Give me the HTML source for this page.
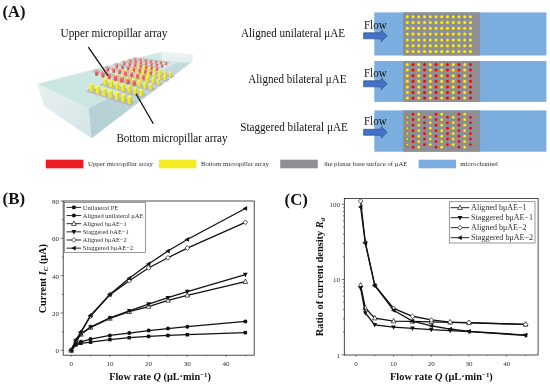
<!DOCTYPE html>
<html lang="en"><head><meta charset="utf-8"><title>Figure</title>
<style>html,body{margin:0;padding:0;background:#fff;}svg{display:block;}svg text{font-family:"Liberation Serif",serif;}</style></head><body>
<svg width="550" height="388" viewBox="0 0 550 388">
<rect width="550" height="388" fill="#fff"/>
<defs>
<linearGradient id="gfront" x1="0" y1="0" x2="1" y2="1"><stop offset="0" stop-color="#e9f0f0"/><stop offset="1" stop-color="#d3e4e6"/></linearGradient>
<linearGradient id="gtop" x1="0" y1="1" x2="1" y2="0"><stop offset="0" stop-color="#c9e4e1"/><stop offset="1" stop-color="#d3e9e7"/></linearGradient>
<linearGradient id="gside" x1="0" y1="1" x2="1" y2="0"><stop offset="0" stop-color="#b2ced4"/><stop offset="1" stop-color="#c6dbdf"/></linearGradient>
<linearGradient id="gback" x1="0" y1="0" x2="0" y2="1"><stop offset="0" stop-color="#f0f5f5"/><stop offset="1" stop-color="#dfecee"/></linearGradient>
<linearGradient id="gy" x1="0" y1="0" x2="1" y2="0"><stop offset="0" stop-color="#f7f23a"/><stop offset="0.6" stop-color="#efe621"/><stop offset="1" stop-color="#b9b92c"/></linearGradient>
<linearGradient id="gr" x1="0" y1="0" x2="1" y2="0"><stop offset="0" stop-color="#f06a66"/><stop offset="0.6" stop-color="#ea5a58"/><stop offset="1" stop-color="#c9514f"/></linearGradient>
</defs>
<g id="box3d">
<polygon points="37.2,84.0 160.6,51.9 192.8,54.5 88.6,108.3" fill="url(#gtop)" />
<polygon points="37.2,84.0 88.6,108.3 91.6,138.2 44.1,106.0" fill="url(#gfront)" />
<polygon points="88.6,108.3 192.8,54.5 191.5,62.2 91.6,138.2" fill="url(#gside)" />
<polygon points="160.6,51.9 192.8,54.5 192.4,63.0 162.8,61.6" fill="url(#gback)" />
<polygon points="90.8,87.5 135.3,102.1 130.5,106.1 86.0,91.5" fill="#b8b7ae" opacity="0.85"/>
<polygon points="104.0,81.7 146.7,94.6 142.4,98.2 99.7,85.3" fill="#b8b7ae" opacity="0.85"/>
<polygon points="114.9,76.9 156.1,88.4 152.2,91.7 111.0,80.2" fill="#b8b7ae" opacity="0.85"/>
<polygon points="123.8,73.1 163.8,83.4 160.2,86.3 120.2,76.0" fill="#b8b7ae" opacity="0.85"/>
<polygon points="131.1,69.9 170.1,79.2 166.8,81.9 127.8,72.6" fill="#b8b7ae" opacity="0.85"/>
<polygon points="137.1,67.3 175.3,75.8 172.2,78.3 134.0,69.8" fill="#b8b7ae" opacity="0.85"/>
<polygon points="95.6,68.8 139.0,80.2 135.2,83.4 91.8,72.0" fill="#c4bdbd" opacity="0.8"/>
<polygon points="106.4,65.4 148.0,74.9 144.6,77.7 103.1,68.2" fill="#c4bdbd" opacity="0.8"/>
<polygon points="115.3,62.6 155.3,70.6 152.3,73.1 112.4,65.1" fill="#c4bdbd" opacity="0.8"/>
<polygon points="122.6,60.3 161.3,67.1 158.7,69.3 120.0,62.5" fill="#c4bdbd" opacity="0.8"/>
<polygon points="128.6,58.5 166.2,64.2 163.9,66.1 126.2,60.4" fill="#c4bdbd" opacity="0.8"/>
<polygon points="133.5,56.9 170.2,61.8 168.1,63.6 131.4,58.7" fill="#c4bdbd" opacity="0.8"/>
<path d="M134.49,58.20 L134.49,60.35 A0.91,0.51 0 0 0 136.31,60.35 L136.31,58.20 Z" fill="url(#gr)"/>
<ellipse cx="135.40" cy="58.20" rx="0.91" ry="0.51" fill="#f3908a"/>
<path d="M139.63,58.88 L139.63,61.03 A0.91,0.51 0 0 0 141.44,61.03 L141.44,58.88 Z" fill="url(#gr)"/>
<ellipse cx="140.53" cy="58.88" rx="0.91" ry="0.51" fill="#f3908a"/>
<path d="M144.76,59.57 L144.76,61.71 A0.91,0.51 0 0 0 146.57,61.71 L146.57,59.57 Z" fill="url(#gr)"/>
<ellipse cx="145.67" cy="59.57" rx="0.91" ry="0.51" fill="#f3908a"/>
<path d="M149.89,60.25 L149.89,62.40 A0.91,0.51 0 0 0 151.71,62.40 L151.71,60.25 Z" fill="url(#gr)"/>
<ellipse cx="150.80" cy="60.25" rx="0.91" ry="0.51" fill="#f3908a"/>
<path d="M155.03,60.93 L155.03,63.08 A0.91,0.51 0 0 0 156.84,63.08 L156.84,60.93 Z" fill="url(#gr)"/>
<ellipse cx="155.93" cy="60.93" rx="0.91" ry="0.51" fill="#f3908a"/>
<path d="M160.16,61.62 L160.16,63.76 A0.91,0.51 0 0 0 161.97,63.76 L161.97,61.62 Z" fill="url(#gr)"/>
<ellipse cx="161.07" cy="61.62" rx="0.91" ry="0.51" fill="#f3908a"/>
<path d="M165.29,62.30 L165.29,64.44 A0.91,0.51 0 0 0 167.11,64.44 L167.11,62.30 Z" fill="url(#gr)"/>
<ellipse cx="166.20" cy="62.30" rx="0.91" ry="0.51" fill="#f3908a"/>
<path d="M137.72,65.27 L137.72,69.30 A1.28,0.72 0 0 0 140.28,69.30 L140.28,65.27 Z" fill="url(#gy)"/>
<ellipse cx="139.00" cy="65.27" rx="1.28" ry="0.72" fill="#fbf65a"/>
<path d="M142.94,66.43 L142.94,70.47 A1.28,0.72 0 0 0 145.50,70.47 L145.50,66.43 Z" fill="url(#gy)"/>
<ellipse cx="144.22" cy="66.43" rx="1.28" ry="0.72" fill="#fbf65a"/>
<path d="M148.15,67.60 L148.15,71.63 A1.28,0.72 0 0 0 150.71,71.63 L150.71,67.60 Z" fill="url(#gy)"/>
<ellipse cx="149.43" cy="67.60" rx="1.28" ry="0.72" fill="#fbf65a"/>
<path d="M153.37,68.77 L153.37,72.80 A1.28,0.72 0 0 0 155.93,72.80 L155.93,68.77 Z" fill="url(#gy)"/>
<ellipse cx="154.65" cy="68.77" rx="1.28" ry="0.72" fill="#fbf65a"/>
<path d="M158.59,69.93 L158.59,73.97 A1.28,0.72 0 0 0 161.15,73.97 L161.15,69.93 Z" fill="url(#gy)"/>
<ellipse cx="159.87" cy="69.93" rx="1.28" ry="0.72" fill="#fbf65a"/>
<path d="M163.80,71.10 L163.80,75.13 A1.28,0.72 0 0 0 166.36,75.13 L166.36,71.10 Z" fill="url(#gy)"/>
<ellipse cx="165.08" cy="71.10" rx="1.28" ry="0.72" fill="#fbf65a"/>
<path d="M169.02,72.27 L169.02,76.30 A1.28,0.72 0 0 0 171.58,76.30 L171.58,72.27 Z" fill="url(#gy)"/>
<ellipse cx="170.30" cy="72.27" rx="1.28" ry="0.72" fill="#fbf65a"/>
<path d="M129.38,59.88 L129.38,62.25 A1.00,0.56 0 0 0 131.39,62.25 L131.39,59.88 Z" fill="url(#gr)"/>
<ellipse cx="130.38" cy="59.88" rx="1.00" ry="0.56" fill="#f3908a"/>
<path d="M134.66,60.69 L134.66,63.06 A1.00,0.56 0 0 0 136.67,63.06 L136.67,60.69 Z" fill="url(#gr)"/>
<ellipse cx="135.66" cy="60.69" rx="1.00" ry="0.56" fill="#f3908a"/>
<path d="M139.94,61.49 L139.94,63.87 A1.00,0.56 0 0 0 141.95,63.87 L141.95,61.49 Z" fill="url(#gr)"/>
<ellipse cx="140.94" cy="61.49" rx="1.00" ry="0.56" fill="#f3908a"/>
<path d="M145.22,62.30 L145.22,64.67 A1.00,0.56 0 0 0 147.23,64.67 L147.23,62.30 Z" fill="url(#gr)"/>
<ellipse cx="146.22" cy="62.30" rx="1.00" ry="0.56" fill="#f3908a"/>
<path d="M150.50,63.11 L150.50,65.48 A1.00,0.56 0 0 0 152.51,65.48 L152.51,63.11 Z" fill="url(#gr)"/>
<ellipse cx="151.50" cy="63.11" rx="1.00" ry="0.56" fill="#f3908a"/>
<path d="M155.78,63.91 L155.78,66.28 A1.00,0.56 0 0 0 157.79,66.28 L157.79,63.91 Z" fill="url(#gr)"/>
<ellipse cx="156.78" cy="63.91" rx="1.00" ry="0.56" fill="#f3908a"/>
<path d="M161.06,64.72 L161.06,67.09 A1.00,0.56 0 0 0 163.06,67.09 L163.06,64.72 Z" fill="url(#gr)"/>
<ellipse cx="162.06" cy="64.72" rx="1.00" ry="0.56" fill="#f3908a"/>
<path d="M131.51,67.73 L131.51,72.05 A1.37,0.77 0 0 0 134.26,72.05 L134.26,67.73 Z" fill="url(#gy)"/>
<ellipse cx="132.88" cy="67.73" rx="1.37" ry="0.77" fill="#fbf65a"/>
<path d="M136.87,69.01 L136.87,73.34 A1.37,0.77 0 0 0 139.61,73.34 L139.61,69.01 Z" fill="url(#gy)"/>
<ellipse cx="138.24" cy="69.01" rx="1.37" ry="0.77" fill="#fbf65a"/>
<path d="M142.23,70.30 L142.23,74.62 A1.37,0.77 0 0 0 144.97,74.62 L144.97,70.30 Z" fill="url(#gy)"/>
<ellipse cx="143.60" cy="70.30" rx="1.37" ry="0.77" fill="#fbf65a"/>
<path d="M147.59,71.58 L147.59,75.90 A1.37,0.77 0 0 0 150.33,75.90 L150.33,71.58 Z" fill="url(#gy)"/>
<ellipse cx="148.96" cy="71.58" rx="1.37" ry="0.77" fill="#fbf65a"/>
<path d="M152.95,72.86 L152.95,77.19 A1.37,0.77 0 0 0 155.69,77.19 L155.69,72.86 Z" fill="url(#gy)"/>
<ellipse cx="154.32" cy="72.86" rx="1.37" ry="0.77" fill="#fbf65a"/>
<path d="M158.30,74.14 L158.30,78.47 A1.37,0.77 0 0 0 161.05,78.47 L161.05,74.14 Z" fill="url(#gy)"/>
<ellipse cx="159.68" cy="74.14" rx="1.37" ry="0.77" fill="#fbf65a"/>
<path d="M163.66,75.43 L163.66,79.75 A1.37,0.77 0 0 0 166.41,79.75 L166.41,75.43 Z" fill="url(#gy)"/>
<ellipse cx="165.04" cy="75.43" rx="1.37" ry="0.77" fill="#fbf65a"/>
<path d="M123.14,61.93 L123.14,64.58 A1.12,0.63 0 0 0 125.38,64.58 L125.38,61.93 Z" fill="url(#gr)"/>
<ellipse cx="124.26" cy="61.93" rx="1.12" ry="0.63" fill="#f3908a"/>
<path d="M128.60,62.89 L128.60,65.54 A1.12,0.63 0 0 0 130.84,65.54 L130.84,62.89 Z" fill="url(#gr)"/>
<ellipse cx="129.72" cy="62.89" rx="1.12" ry="0.63" fill="#f3908a"/>
<path d="M134.06,63.84 L134.06,66.49 A1.12,0.63 0 0 0 136.30,66.49 L136.30,63.84 Z" fill="url(#gr)"/>
<ellipse cx="135.18" cy="63.84" rx="1.12" ry="0.63" fill="#f3908a"/>
<path d="M139.52,64.80 L139.52,67.45 A1.12,0.63 0 0 0 141.76,67.45 L141.76,64.80 Z" fill="url(#gr)"/>
<ellipse cx="140.64" cy="64.80" rx="1.12" ry="0.63" fill="#f3908a"/>
<path d="M144.98,65.76 L144.98,68.40 A1.12,0.63 0 0 0 147.22,68.40 L147.22,65.76 Z" fill="url(#gr)"/>
<ellipse cx="146.10" cy="65.76" rx="1.12" ry="0.63" fill="#f3908a"/>
<path d="M150.44,66.71 L150.44,69.36 A1.12,0.63 0 0 0 152.68,69.36 L152.68,66.71 Z" fill="url(#gr)"/>
<ellipse cx="151.56" cy="66.71" rx="1.12" ry="0.63" fill="#f3908a"/>
<path d="M155.89,67.67 L155.89,70.32 A1.12,0.63 0 0 0 158.14,70.32 L158.14,67.67 Z" fill="url(#gr)"/>
<ellipse cx="157.01" cy="67.67" rx="1.12" ry="0.63" fill="#f3908a"/>
<path d="M123.94,70.73 L123.94,75.41 A1.49,0.83 0 0 0 126.91,75.41 L126.91,70.73 Z" fill="url(#gy)"/>
<ellipse cx="125.42" cy="70.73" rx="1.49" ry="0.83" fill="#fbf65a"/>
<path d="M129.47,72.16 L129.47,76.84 A1.49,0.83 0 0 0 132.44,76.84 L132.44,72.16 Z" fill="url(#gy)"/>
<ellipse cx="130.96" cy="72.16" rx="1.49" ry="0.83" fill="#fbf65a"/>
<path d="M135.00,73.58 L135.00,78.26 A1.49,0.83 0 0 0 137.97,78.26 L137.97,73.58 Z" fill="url(#gy)"/>
<ellipse cx="136.49" cy="73.58" rx="1.49" ry="0.83" fill="#fbf65a"/>
<path d="M140.53,75.01 L140.53,79.69 A1.49,0.83 0 0 0 143.51,79.69 L143.51,75.01 Z" fill="url(#gy)"/>
<ellipse cx="142.02" cy="75.01" rx="1.49" ry="0.83" fill="#fbf65a"/>
<path d="M146.07,76.43 L146.07,81.11 A1.49,0.83 0 0 0 149.04,81.11 L149.04,76.43 Z" fill="url(#gy)"/>
<ellipse cx="147.55" cy="76.43" rx="1.49" ry="0.83" fill="#fbf65a"/>
<path d="M151.60,77.86 L151.60,82.54 A1.49,0.83 0 0 0 154.57,82.54 L154.57,77.86 Z" fill="url(#gy)"/>
<ellipse cx="153.08" cy="77.86" rx="1.49" ry="0.83" fill="#fbf65a"/>
<path d="M157.13,79.28 L157.13,83.96 A1.49,0.83 0 0 0 160.10,83.96 L160.10,79.28 Z" fill="url(#gy)"/>
<ellipse cx="158.62" cy="79.28" rx="1.49" ry="0.83" fill="#fbf65a"/>
<path d="M115.54,64.43 L115.54,67.42 A1.26,0.71 0 0 0 118.06,67.42 L118.06,64.43 Z" fill="url(#gr)"/>
<ellipse cx="116.80" cy="64.43" rx="1.26" ry="0.71" fill="#f3908a"/>
<path d="M121.21,65.57 L121.21,68.56 A1.26,0.71 0 0 0 123.74,68.56 L123.74,65.57 Z" fill="url(#gr)"/>
<ellipse cx="122.48" cy="65.57" rx="1.26" ry="0.71" fill="#f3908a"/>
<path d="M126.89,66.71 L126.89,69.70 A1.26,0.71 0 0 0 129.42,69.70 L129.42,66.71 Z" fill="url(#gr)"/>
<ellipse cx="128.15" cy="66.71" rx="1.26" ry="0.71" fill="#f3908a"/>
<path d="M132.57,67.85 L132.57,70.83 A1.26,0.71 0 0 0 135.09,70.83 L135.09,67.85 Z" fill="url(#gr)"/>
<ellipse cx="133.83" cy="67.85" rx="1.26" ry="0.71" fill="#f3908a"/>
<path d="M138.24,68.99 L138.24,71.97 A1.26,0.71 0 0 0 140.77,71.97 L140.77,68.99 Z" fill="url(#gr)"/>
<ellipse cx="139.51" cy="68.99" rx="1.26" ry="0.71" fill="#f3908a"/>
<path d="M143.92,70.13 L143.92,73.11 A1.26,0.71 0 0 0 146.45,73.11 L146.45,70.13 Z" fill="url(#gr)"/>
<ellipse cx="145.18" cy="70.13" rx="1.26" ry="0.71" fill="#f3908a"/>
<path d="M149.60,71.26 L149.60,74.25 A1.26,0.71 0 0 0 152.12,74.25 L152.12,71.26 Z" fill="url(#gr)"/>
<ellipse cx="150.86" cy="71.26" rx="1.26" ry="0.71" fill="#f3908a"/>
<path d="M114.70,74.39 L114.70,79.51 A1.63,0.91 0 0 0 117.95,79.51 L117.95,74.39 Z" fill="url(#gy)"/>
<ellipse cx="116.32" cy="74.39" rx="1.63" ry="0.91" fill="#fbf65a"/>
<path d="M120.44,75.99 L120.44,81.11 A1.63,0.91 0 0 0 123.69,81.11 L123.69,75.99 Z" fill="url(#gy)"/>
<ellipse cx="122.07" cy="75.99" rx="1.63" ry="0.91" fill="#fbf65a"/>
<path d="M126.19,77.59 L126.19,82.71 A1.63,0.91 0 0 0 129.44,82.71 L129.44,77.59 Z" fill="url(#gy)"/>
<ellipse cx="127.81" cy="77.59" rx="1.63" ry="0.91" fill="#fbf65a"/>
<path d="M131.93,79.19 L131.93,84.31 A1.63,0.91 0 0 0 135.18,84.31 L135.18,79.19 Z" fill="url(#gy)"/>
<ellipse cx="133.56" cy="79.19" rx="1.63" ry="0.91" fill="#fbf65a"/>
<path d="M137.68,80.78 L137.68,85.90 A1.63,0.91 0 0 0 140.93,85.90 L140.93,80.78 Z" fill="url(#gy)"/>
<ellipse cx="139.30" cy="80.78" rx="1.63" ry="0.91" fill="#fbf65a"/>
<path d="M143.42,82.38 L143.42,87.50 A1.63,0.91 0 0 0 146.67,87.50 L146.67,82.38 Z" fill="url(#gy)"/>
<ellipse cx="145.04" cy="82.38" rx="1.63" ry="0.91" fill="#fbf65a"/>
<path d="M149.16,83.98 L149.16,89.10 A1.63,0.91 0 0 0 152.41,89.10 L152.41,83.98 Z" fill="url(#gy)"/>
<ellipse cx="150.79" cy="83.98" rx="1.63" ry="0.91" fill="#fbf65a"/>
<path d="M106.26,67.48 L106.26,70.88 A1.44,0.81 0 0 0 109.14,70.88 L109.14,67.48 Z" fill="url(#gr)"/>
<ellipse cx="107.70" cy="67.48" rx="1.44" ry="0.81" fill="#f3908a"/>
<path d="M112.20,68.84 L112.20,72.24 A1.44,0.81 0 0 0 115.08,72.24 L115.08,68.84 Z" fill="url(#gr)"/>
<ellipse cx="113.64" cy="68.84" rx="1.44" ry="0.81" fill="#f3908a"/>
<path d="M118.15,70.20 L118.15,73.60 A1.44,0.81 0 0 0 121.02,73.60 L121.02,70.20 Z" fill="url(#gr)"/>
<ellipse cx="119.58" cy="70.20" rx="1.44" ry="0.81" fill="#f3908a"/>
<path d="M124.09,71.57 L124.09,74.96 A1.44,0.81 0 0 0 126.96,74.96 L126.96,71.57 Z" fill="url(#gr)"/>
<ellipse cx="125.53" cy="71.57" rx="1.44" ry="0.81" fill="#f3908a"/>
<path d="M130.03,72.93 L130.03,76.33 A1.44,0.81 0 0 0 132.91,76.33 L132.91,72.93 Z" fill="url(#gr)"/>
<ellipse cx="131.47" cy="72.93" rx="1.44" ry="0.81" fill="#f3908a"/>
<path d="M135.97,74.29 L135.97,77.69 A1.44,0.81 0 0 0 138.85,77.69 L138.85,74.29 Z" fill="url(#gr)"/>
<ellipse cx="137.41" cy="74.29" rx="1.44" ry="0.81" fill="#f3908a"/>
<path d="M141.92,75.65 L141.92,79.05 A1.44,0.81 0 0 0 144.79,79.05 L144.79,75.65 Z" fill="url(#gr)"/>
<ellipse cx="143.35" cy="75.65" rx="1.44" ry="0.81" fill="#f3908a"/>
<path d="M103.44,78.86 L103.44,84.51 A1.79,1.00 0 0 0 107.02,84.51 L107.02,78.86 Z" fill="url(#gy)"/>
<ellipse cx="105.23" cy="78.86" rx="1.79" ry="1.00" fill="#fbf65a"/>
<path d="M109.44,80.67 L109.44,86.32 A1.79,1.00 0 0 0 113.03,86.32 L113.03,80.67 Z" fill="url(#gy)"/>
<ellipse cx="111.23" cy="80.67" rx="1.79" ry="1.00" fill="#fbf65a"/>
<path d="M115.44,82.47 L115.44,88.13 A1.79,1.00 0 0 0 119.03,88.13 L119.03,82.47 Z" fill="url(#gy)"/>
<ellipse cx="117.23" cy="82.47" rx="1.79" ry="1.00" fill="#fbf65a"/>
<path d="M121.44,84.28 L121.44,89.93 A1.79,1.00 0 0 0 125.03,89.93 L125.03,84.28 Z" fill="url(#gy)"/>
<ellipse cx="123.24" cy="84.28" rx="1.79" ry="1.00" fill="#fbf65a"/>
<path d="M127.44,86.09 L127.44,91.74 A1.79,1.00 0 0 0 131.03,91.74 L131.03,86.09 Z" fill="url(#gy)"/>
<ellipse cx="129.24" cy="86.09" rx="1.79" ry="1.00" fill="#fbf65a"/>
<path d="M133.45,87.90 L133.45,93.55 A1.79,1.00 0 0 0 137.03,93.55 L137.03,87.90 Z" fill="url(#gy)"/>
<ellipse cx="135.24" cy="87.90" rx="1.79" ry="1.00" fill="#fbf65a"/>
<path d="M139.45,89.71 L139.45,95.36 A1.79,1.00 0 0 0 143.04,95.36 L143.04,89.71 Z" fill="url(#gy)"/>
<ellipse cx="141.24" cy="89.71" rx="1.79" ry="1.00" fill="#fbf65a"/>
<path d="M94.95,71.20 L94.95,75.10 A1.65,0.92 0 0 0 98.25,75.10 L98.25,71.20 Z" fill="url(#gr)"/>
<ellipse cx="96.60" cy="71.20" rx="1.65" ry="0.92" fill="#f3908a"/>
<path d="M101.22,72.83 L101.22,76.73 A1.65,0.92 0 0 0 104.52,76.73 L104.52,72.83 Z" fill="url(#gr)"/>
<ellipse cx="102.87" cy="72.83" rx="1.65" ry="0.92" fill="#f3908a"/>
<path d="M107.48,74.47 L107.48,78.37 A1.65,0.92 0 0 0 110.78,78.37 L110.78,74.47 Z" fill="url(#gr)"/>
<ellipse cx="109.13" cy="74.47" rx="1.65" ry="0.92" fill="#f3908a"/>
<path d="M113.75,76.10 L113.75,80.00 A1.65,0.92 0 0 0 117.05,80.00 L117.05,76.10 Z" fill="url(#gr)"/>
<ellipse cx="115.40" cy="76.10" rx="1.65" ry="0.92" fill="#f3908a"/>
<path d="M120.02,77.73 L120.02,81.63 A1.65,0.92 0 0 0 123.32,81.63 L123.32,77.73 Z" fill="url(#gr)"/>
<ellipse cx="121.67" cy="77.73" rx="1.65" ry="0.92" fill="#f3908a"/>
<path d="M126.28,79.37 L126.28,83.27 A1.65,0.92 0 0 0 129.58,83.27 L129.58,79.37 Z" fill="url(#gr)"/>
<ellipse cx="127.93" cy="79.37" rx="1.65" ry="0.92" fill="#f3908a"/>
<path d="M132.55,81.00 L132.55,84.90 A1.65,0.92 0 0 0 135.85,84.90 L135.85,81.00 Z" fill="url(#gr)"/>
<ellipse cx="134.20" cy="81.00" rx="1.65" ry="0.92" fill="#f3908a"/>
<path d="M89.70,84.30 L89.70,90.60 A2.00,1.12 0 0 0 93.70,90.60 L93.70,84.30 Z" fill="url(#gy)"/>
<ellipse cx="91.70" cy="84.30" rx="2.00" ry="1.12" fill="#fbf65a"/>
<path d="M96.02,86.37 L96.02,92.67 A2.00,1.12 0 0 0 100.02,92.67 L100.02,86.37 Z" fill="url(#gy)"/>
<ellipse cx="98.02" cy="86.37" rx="2.00" ry="1.12" fill="#fbf65a"/>
<path d="M102.33,88.43 L102.33,94.73 A2.00,1.12 0 0 0 106.33,94.73 L106.33,88.43 Z" fill="url(#gy)"/>
<ellipse cx="104.33" cy="88.43" rx="2.00" ry="1.12" fill="#fbf65a"/>
<path d="M108.65,90.50 L108.65,96.80 A2.00,1.12 0 0 0 112.65,96.80 L112.65,90.50 Z" fill="url(#gy)"/>
<ellipse cx="110.65" cy="90.50" rx="2.00" ry="1.12" fill="#fbf65a"/>
<path d="M114.97,92.57 L114.97,98.87 A2.00,1.12 0 0 0 118.97,98.87 L118.97,92.57 Z" fill="url(#gy)"/>
<ellipse cx="116.97" cy="92.57" rx="2.00" ry="1.12" fill="#fbf65a"/>
<path d="M121.28,94.63 L121.28,100.93 A2.00,1.12 0 0 0 125.28,100.93 L125.28,94.63 Z" fill="url(#gy)"/>
<ellipse cx="123.28" cy="94.63" rx="2.00" ry="1.12" fill="#fbf65a"/>
<path d="M127.60,96.70 L127.60,103.00 A2.00,1.12 0 0 0 131.60,103.00 L131.60,96.70 Z" fill="url(#gy)"/>
<ellipse cx="129.60" cy="96.70" rx="2.00" ry="1.12" fill="#fbf65a"/>
</g>
<line x1="88.3" y1="47.1" x2="108" y2="75.6" stroke="#111" stroke-width="1.3"/>
<line x1="136.0" y1="93.8" x2="153.3" y2="123.8" stroke="#111" stroke-width="1.3"/>
<text x="2.6" y="17" font-size="16" font-weight="bold" text-anchor="start" fill="#111" textLength="22.9" lengthAdjust="spacingAndGlyphs" >(A)</text>
<text x="60.5" y="37.0" font-size="12.2" font-weight="normal" text-anchor="start" fill="#111" textLength="107" lengthAdjust="spacingAndGlyphs" >Upper micropillar array</text>
<text x="116.4" y="141.6" font-size="12.2" font-weight="normal" text-anchor="start" fill="#111" textLength="111.2" lengthAdjust="spacingAndGlyphs" >Bottom micropillar array</text>
<text x="241" y="37.2" font-size="12.2" font-weight="normal" text-anchor="start" fill="#111" textLength="104" lengthAdjust="spacingAndGlyphs" >Aligned unilateral μAE</text>
<text x="248.3" y="83.3" font-size="12.2" font-weight="normal" text-anchor="start" fill="#111" textLength="98.1" lengthAdjust="spacingAndGlyphs" >Aligned bilateral μAE</text>
<text x="240.2" y="131.3" font-size="12.2" font-weight="normal" text-anchor="start" fill="#111" textLength="107.6" lengthAdjust="spacingAndGlyphs" >Staggered bilateral μAE</text>
<rect x="374.3" y="12.4" width="172.1" height="43.1" fill="#7badde"/>
<rect x="403.1" y="12.4" width="77" height="43.1" fill="#8e8e93"/>
<rect x="374.3" y="61" width="172.1" height="40.9" fill="#7badde"/>
<rect x="403.1" y="61" width="77" height="40.9" fill="#8e8e93"/>
<rect x="374.3" y="110.4" width="172.1" height="41.3" fill="#7badde"/>
<rect x="403.1" y="110.4" width="77" height="41.3" fill="#8e8e93"/>
<circle cx="407.30" cy="16.70" r="1.5" fill="#fff200"/>
<circle cx="407.30" cy="22.50" r="1.5" fill="#fff200"/>
<circle cx="407.30" cy="28.30" r="1.5" fill="#fff200"/>
<circle cx="407.30" cy="34.10" r="1.5" fill="#fff200"/>
<circle cx="407.30" cy="39.90" r="1.5" fill="#fff200"/>
<circle cx="407.30" cy="45.70" r="1.5" fill="#fff200"/>
<circle cx="407.30" cy="51.50" r="1.5" fill="#fff200"/>
<circle cx="413.04" cy="16.70" r="1.5" fill="#fff200"/>
<circle cx="413.04" cy="22.50" r="1.5" fill="#fff200"/>
<circle cx="413.04" cy="28.30" r="1.5" fill="#fff200"/>
<circle cx="413.04" cy="34.10" r="1.5" fill="#fff200"/>
<circle cx="413.04" cy="39.90" r="1.5" fill="#fff200"/>
<circle cx="413.04" cy="45.70" r="1.5" fill="#fff200"/>
<circle cx="413.04" cy="51.50" r="1.5" fill="#fff200"/>
<circle cx="418.78" cy="16.70" r="1.5" fill="#fff200"/>
<circle cx="418.78" cy="22.50" r="1.5" fill="#fff200"/>
<circle cx="418.78" cy="28.30" r="1.5" fill="#fff200"/>
<circle cx="418.78" cy="34.10" r="1.5" fill="#fff200"/>
<circle cx="418.78" cy="39.90" r="1.5" fill="#fff200"/>
<circle cx="418.78" cy="45.70" r="1.5" fill="#fff200"/>
<circle cx="418.78" cy="51.50" r="1.5" fill="#fff200"/>
<circle cx="424.52" cy="16.70" r="1.5" fill="#fff200"/>
<circle cx="424.52" cy="22.50" r="1.5" fill="#fff200"/>
<circle cx="424.52" cy="28.30" r="1.5" fill="#fff200"/>
<circle cx="424.52" cy="34.10" r="1.5" fill="#fff200"/>
<circle cx="424.52" cy="39.90" r="1.5" fill="#fff200"/>
<circle cx="424.52" cy="45.70" r="1.5" fill="#fff200"/>
<circle cx="424.52" cy="51.50" r="1.5" fill="#fff200"/>
<circle cx="430.26" cy="16.70" r="1.5" fill="#fff200"/>
<circle cx="430.26" cy="22.50" r="1.5" fill="#fff200"/>
<circle cx="430.26" cy="28.30" r="1.5" fill="#fff200"/>
<circle cx="430.26" cy="34.10" r="1.5" fill="#fff200"/>
<circle cx="430.26" cy="39.90" r="1.5" fill="#fff200"/>
<circle cx="430.26" cy="45.70" r="1.5" fill="#fff200"/>
<circle cx="430.26" cy="51.50" r="1.5" fill="#fff200"/>
<circle cx="436.00" cy="16.70" r="1.5" fill="#fff200"/>
<circle cx="436.00" cy="22.50" r="1.5" fill="#fff200"/>
<circle cx="436.00" cy="28.30" r="1.5" fill="#fff200"/>
<circle cx="436.00" cy="34.10" r="1.5" fill="#fff200"/>
<circle cx="436.00" cy="39.90" r="1.5" fill="#fff200"/>
<circle cx="436.00" cy="45.70" r="1.5" fill="#fff200"/>
<circle cx="436.00" cy="51.50" r="1.5" fill="#fff200"/>
<circle cx="441.74" cy="16.70" r="1.5" fill="#fff200"/>
<circle cx="441.74" cy="22.50" r="1.5" fill="#fff200"/>
<circle cx="441.74" cy="28.30" r="1.5" fill="#fff200"/>
<circle cx="441.74" cy="34.10" r="1.5" fill="#fff200"/>
<circle cx="441.74" cy="39.90" r="1.5" fill="#fff200"/>
<circle cx="441.74" cy="45.70" r="1.5" fill="#fff200"/>
<circle cx="441.74" cy="51.50" r="1.5" fill="#fff200"/>
<circle cx="447.48" cy="16.70" r="1.5" fill="#fff200"/>
<circle cx="447.48" cy="22.50" r="1.5" fill="#fff200"/>
<circle cx="447.48" cy="28.30" r="1.5" fill="#fff200"/>
<circle cx="447.48" cy="34.10" r="1.5" fill="#fff200"/>
<circle cx="447.48" cy="39.90" r="1.5" fill="#fff200"/>
<circle cx="447.48" cy="45.70" r="1.5" fill="#fff200"/>
<circle cx="447.48" cy="51.50" r="1.5" fill="#fff200"/>
<circle cx="453.22" cy="16.70" r="1.5" fill="#fff200"/>
<circle cx="453.22" cy="22.50" r="1.5" fill="#fff200"/>
<circle cx="453.22" cy="28.30" r="1.5" fill="#fff200"/>
<circle cx="453.22" cy="34.10" r="1.5" fill="#fff200"/>
<circle cx="453.22" cy="39.90" r="1.5" fill="#fff200"/>
<circle cx="453.22" cy="45.70" r="1.5" fill="#fff200"/>
<circle cx="453.22" cy="51.50" r="1.5" fill="#fff200"/>
<circle cx="458.96" cy="16.70" r="1.5" fill="#fff200"/>
<circle cx="458.96" cy="22.50" r="1.5" fill="#fff200"/>
<circle cx="458.96" cy="28.30" r="1.5" fill="#fff200"/>
<circle cx="458.96" cy="34.10" r="1.5" fill="#fff200"/>
<circle cx="458.96" cy="39.90" r="1.5" fill="#fff200"/>
<circle cx="458.96" cy="45.70" r="1.5" fill="#fff200"/>
<circle cx="458.96" cy="51.50" r="1.5" fill="#fff200"/>
<circle cx="464.70" cy="16.70" r="1.5" fill="#fff200"/>
<circle cx="464.70" cy="22.50" r="1.5" fill="#fff200"/>
<circle cx="464.70" cy="28.30" r="1.5" fill="#fff200"/>
<circle cx="464.70" cy="34.10" r="1.5" fill="#fff200"/>
<circle cx="464.70" cy="39.90" r="1.5" fill="#fff200"/>
<circle cx="464.70" cy="45.70" r="1.5" fill="#fff200"/>
<circle cx="464.70" cy="51.50" r="1.5" fill="#fff200"/>
<circle cx="470.44" cy="16.70" r="1.5" fill="#fff200"/>
<circle cx="470.44" cy="22.50" r="1.5" fill="#fff200"/>
<circle cx="470.44" cy="28.30" r="1.5" fill="#fff200"/>
<circle cx="470.44" cy="34.10" r="1.5" fill="#fff200"/>
<circle cx="470.44" cy="39.90" r="1.5" fill="#fff200"/>
<circle cx="470.44" cy="45.70" r="1.5" fill="#fff200"/>
<circle cx="470.44" cy="51.50" r="1.5" fill="#fff200"/>
<circle cx="407.30" cy="64.50" r="1.5" fill="#fff200"/>
<circle cx="407.30" cy="70.10" r="1.5" fill="#fff200"/>
<circle cx="407.30" cy="75.70" r="1.5" fill="#fff200"/>
<circle cx="407.30" cy="81.30" r="1.5" fill="#fff200"/>
<circle cx="407.30" cy="86.90" r="1.5" fill="#fff200"/>
<circle cx="407.30" cy="92.50" r="1.5" fill="#fff200"/>
<circle cx="407.30" cy="98.10" r="1.5" fill="#fff200"/>
<circle cx="413.04" cy="64.50" r="1.5" fill="#fe0000"/>
<circle cx="413.04" cy="70.10" r="1.5" fill="#fe0000"/>
<circle cx="413.04" cy="75.70" r="1.5" fill="#fe0000"/>
<circle cx="413.04" cy="81.30" r="1.5" fill="#fe0000"/>
<circle cx="413.04" cy="86.90" r="1.5" fill="#fe0000"/>
<circle cx="413.04" cy="92.50" r="1.5" fill="#fe0000"/>
<circle cx="413.04" cy="98.10" r="1.5" fill="#fe0000"/>
<circle cx="418.78" cy="64.50" r="1.5" fill="#fff200"/>
<circle cx="418.78" cy="70.10" r="1.5" fill="#fff200"/>
<circle cx="418.78" cy="75.70" r="1.5" fill="#fff200"/>
<circle cx="418.78" cy="81.30" r="1.5" fill="#fff200"/>
<circle cx="418.78" cy="86.90" r="1.5" fill="#fff200"/>
<circle cx="418.78" cy="92.50" r="1.5" fill="#fff200"/>
<circle cx="418.78" cy="98.10" r="1.5" fill="#fff200"/>
<circle cx="424.52" cy="64.50" r="1.5" fill="#fe0000"/>
<circle cx="424.52" cy="70.10" r="1.5" fill="#fe0000"/>
<circle cx="424.52" cy="75.70" r="1.5" fill="#fe0000"/>
<circle cx="424.52" cy="81.30" r="1.5" fill="#fe0000"/>
<circle cx="424.52" cy="86.90" r="1.5" fill="#fe0000"/>
<circle cx="424.52" cy="92.50" r="1.5" fill="#fe0000"/>
<circle cx="424.52" cy="98.10" r="1.5" fill="#fe0000"/>
<circle cx="430.26" cy="64.50" r="1.5" fill="#fff200"/>
<circle cx="430.26" cy="70.10" r="1.5" fill="#fff200"/>
<circle cx="430.26" cy="75.70" r="1.5" fill="#fff200"/>
<circle cx="430.26" cy="81.30" r="1.5" fill="#fff200"/>
<circle cx="430.26" cy="86.90" r="1.5" fill="#fff200"/>
<circle cx="430.26" cy="92.50" r="1.5" fill="#fff200"/>
<circle cx="430.26" cy="98.10" r="1.5" fill="#fff200"/>
<circle cx="436.00" cy="64.50" r="1.5" fill="#fe0000"/>
<circle cx="436.00" cy="70.10" r="1.5" fill="#fe0000"/>
<circle cx="436.00" cy="75.70" r="1.5" fill="#fe0000"/>
<circle cx="436.00" cy="81.30" r="1.5" fill="#fe0000"/>
<circle cx="436.00" cy="86.90" r="1.5" fill="#fe0000"/>
<circle cx="436.00" cy="92.50" r="1.5" fill="#fe0000"/>
<circle cx="436.00" cy="98.10" r="1.5" fill="#fe0000"/>
<circle cx="441.74" cy="64.50" r="1.5" fill="#fff200"/>
<circle cx="441.74" cy="70.10" r="1.5" fill="#fff200"/>
<circle cx="441.74" cy="75.70" r="1.5" fill="#fff200"/>
<circle cx="441.74" cy="81.30" r="1.5" fill="#fff200"/>
<circle cx="441.74" cy="86.90" r="1.5" fill="#fff200"/>
<circle cx="441.74" cy="92.50" r="1.5" fill="#fff200"/>
<circle cx="441.74" cy="98.10" r="1.5" fill="#fff200"/>
<circle cx="447.48" cy="64.50" r="1.5" fill="#fe0000"/>
<circle cx="447.48" cy="70.10" r="1.5" fill="#fe0000"/>
<circle cx="447.48" cy="75.70" r="1.5" fill="#fe0000"/>
<circle cx="447.48" cy="81.30" r="1.5" fill="#fe0000"/>
<circle cx="447.48" cy="86.90" r="1.5" fill="#fe0000"/>
<circle cx="447.48" cy="92.50" r="1.5" fill="#fe0000"/>
<circle cx="447.48" cy="98.10" r="1.5" fill="#fe0000"/>
<circle cx="453.22" cy="64.50" r="1.5" fill="#fff200"/>
<circle cx="453.22" cy="70.10" r="1.5" fill="#fff200"/>
<circle cx="453.22" cy="75.70" r="1.5" fill="#fff200"/>
<circle cx="453.22" cy="81.30" r="1.5" fill="#fff200"/>
<circle cx="453.22" cy="86.90" r="1.5" fill="#fff200"/>
<circle cx="453.22" cy="92.50" r="1.5" fill="#fff200"/>
<circle cx="453.22" cy="98.10" r="1.5" fill="#fff200"/>
<circle cx="458.96" cy="64.50" r="1.5" fill="#fe0000"/>
<circle cx="458.96" cy="70.10" r="1.5" fill="#fe0000"/>
<circle cx="458.96" cy="75.70" r="1.5" fill="#fe0000"/>
<circle cx="458.96" cy="81.30" r="1.5" fill="#fe0000"/>
<circle cx="458.96" cy="86.90" r="1.5" fill="#fe0000"/>
<circle cx="458.96" cy="92.50" r="1.5" fill="#fe0000"/>
<circle cx="458.96" cy="98.10" r="1.5" fill="#fe0000"/>
<circle cx="464.70" cy="64.50" r="1.5" fill="#fff200"/>
<circle cx="464.70" cy="70.10" r="1.5" fill="#fff200"/>
<circle cx="464.70" cy="75.70" r="1.5" fill="#fff200"/>
<circle cx="464.70" cy="81.30" r="1.5" fill="#fff200"/>
<circle cx="464.70" cy="86.90" r="1.5" fill="#fff200"/>
<circle cx="464.70" cy="92.50" r="1.5" fill="#fff200"/>
<circle cx="464.70" cy="98.10" r="1.5" fill="#fff200"/>
<circle cx="470.44" cy="64.50" r="1.5" fill="#fe0000"/>
<circle cx="470.44" cy="70.10" r="1.5" fill="#fe0000"/>
<circle cx="470.44" cy="75.70" r="1.5" fill="#fe0000"/>
<circle cx="470.44" cy="81.30" r="1.5" fill="#fe0000"/>
<circle cx="470.44" cy="86.90" r="1.5" fill="#fe0000"/>
<circle cx="470.44" cy="92.50" r="1.5" fill="#fe0000"/>
<circle cx="470.44" cy="98.10" r="1.5" fill="#fe0000"/>
<circle cx="407.30" cy="117.30" r="1.3" fill="#fff200" stroke="#6b6a2a" stroke-width="0.5"/>
<circle cx="407.30" cy="122.75" r="1.3" fill="#fff200" stroke="#6b6a2a" stroke-width="0.5"/>
<circle cx="407.30" cy="128.20" r="1.3" fill="#fff200" stroke="#6b6a2a" stroke-width="0.5"/>
<circle cx="407.30" cy="133.65" r="1.3" fill="#fff200" stroke="#6b6a2a" stroke-width="0.5"/>
<circle cx="407.30" cy="139.10" r="1.3" fill="#fff200" stroke="#6b6a2a" stroke-width="0.5"/>
<circle cx="407.30" cy="144.55" r="1.3" fill="#fff200" stroke="#6b6a2a" stroke-width="0.5"/>
<circle cx="413.04" cy="114.20" r="1.35" fill="#fe0000"/>
<circle cx="413.04" cy="119.70" r="1.35" fill="#fe0000"/>
<circle cx="413.04" cy="125.20" r="1.35" fill="#fe0000"/>
<circle cx="413.04" cy="130.70" r="1.35" fill="#fe0000"/>
<circle cx="413.04" cy="136.20" r="1.35" fill="#fe0000"/>
<circle cx="413.04" cy="141.70" r="1.35" fill="#fe0000"/>
<circle cx="413.04" cy="147.20" r="1.35" fill="#fe0000"/>
<circle cx="418.78" cy="114.20" r="1.35" fill="#fff200"/>
<circle cx="418.78" cy="119.70" r="1.35" fill="#fff200"/>
<circle cx="418.78" cy="125.20" r="1.35" fill="#fff200"/>
<circle cx="418.78" cy="130.70" r="1.35" fill="#fff200"/>
<circle cx="418.78" cy="136.20" r="1.35" fill="#fff200"/>
<circle cx="418.78" cy="141.70" r="1.35" fill="#fff200"/>
<circle cx="418.78" cy="147.20" r="1.35" fill="#fff200"/>
<circle cx="424.52" cy="117.30" r="1.35" fill="#fe0000"/>
<circle cx="424.52" cy="122.75" r="1.35" fill="#fe0000"/>
<circle cx="424.52" cy="128.20" r="1.35" fill="#fe0000"/>
<circle cx="424.52" cy="133.65" r="1.35" fill="#fe0000"/>
<circle cx="424.52" cy="139.10" r="1.35" fill="#fe0000"/>
<circle cx="424.52" cy="144.55" r="1.35" fill="#fe0000"/>
<circle cx="430.26" cy="117.30" r="1.35" fill="#fff200"/>
<circle cx="430.26" cy="122.75" r="1.35" fill="#fff200"/>
<circle cx="430.26" cy="128.20" r="1.35" fill="#fff200"/>
<circle cx="430.26" cy="133.65" r="1.35" fill="#fff200"/>
<circle cx="430.26" cy="139.10" r="1.35" fill="#fff200"/>
<circle cx="430.26" cy="144.55" r="1.35" fill="#fff200"/>
<circle cx="436.00" cy="114.20" r="1.35" fill="#fe0000"/>
<circle cx="436.00" cy="119.70" r="1.35" fill="#fe0000"/>
<circle cx="436.00" cy="125.20" r="1.35" fill="#fe0000"/>
<circle cx="436.00" cy="130.70" r="1.35" fill="#fe0000"/>
<circle cx="436.00" cy="136.20" r="1.35" fill="#fe0000"/>
<circle cx="436.00" cy="141.70" r="1.35" fill="#fe0000"/>
<circle cx="436.00" cy="147.20" r="1.35" fill="#fe0000"/>
<circle cx="441.74" cy="114.20" r="1.35" fill="#fff200"/>
<circle cx="441.74" cy="119.70" r="1.35" fill="#fff200"/>
<circle cx="441.74" cy="125.20" r="1.35" fill="#fff200"/>
<circle cx="441.74" cy="130.70" r="1.35" fill="#fff200"/>
<circle cx="441.74" cy="136.20" r="1.35" fill="#fff200"/>
<circle cx="441.74" cy="141.70" r="1.35" fill="#fff200"/>
<circle cx="441.74" cy="147.20" r="1.35" fill="#fff200"/>
<circle cx="447.48" cy="117.30" r="1.35" fill="#fe0000"/>
<circle cx="447.48" cy="122.75" r="1.35" fill="#fe0000"/>
<circle cx="447.48" cy="128.20" r="1.35" fill="#fe0000"/>
<circle cx="447.48" cy="133.65" r="1.35" fill="#fe0000"/>
<circle cx="447.48" cy="139.10" r="1.35" fill="#fe0000"/>
<circle cx="447.48" cy="144.55" r="1.35" fill="#fe0000"/>
<circle cx="453.22" cy="117.30" r="1.35" fill="#fff200"/>
<circle cx="453.22" cy="122.75" r="1.35" fill="#fff200"/>
<circle cx="453.22" cy="128.20" r="1.35" fill="#fff200"/>
<circle cx="453.22" cy="133.65" r="1.35" fill="#fff200"/>
<circle cx="453.22" cy="139.10" r="1.35" fill="#fff200"/>
<circle cx="453.22" cy="144.55" r="1.35" fill="#fff200"/>
<circle cx="458.96" cy="114.20" r="1.35" fill="#fe0000"/>
<circle cx="458.96" cy="119.70" r="1.35" fill="#fe0000"/>
<circle cx="458.96" cy="125.20" r="1.35" fill="#fe0000"/>
<circle cx="458.96" cy="130.70" r="1.35" fill="#fe0000"/>
<circle cx="458.96" cy="136.20" r="1.35" fill="#fe0000"/>
<circle cx="458.96" cy="141.70" r="1.35" fill="#fe0000"/>
<circle cx="458.96" cy="147.20" r="1.35" fill="#fe0000"/>
<circle cx="464.70" cy="114.20" r="1.35" fill="#fff200"/>
<circle cx="464.70" cy="119.70" r="1.35" fill="#fff200"/>
<circle cx="464.70" cy="125.20" r="1.35" fill="#fff200"/>
<circle cx="464.70" cy="130.70" r="1.35" fill="#fff200"/>
<circle cx="464.70" cy="136.20" r="1.35" fill="#fff200"/>
<circle cx="464.70" cy="141.70" r="1.35" fill="#fff200"/>
<circle cx="464.70" cy="147.20" r="1.35" fill="#fff200"/>
<circle cx="470.44" cy="117.30" r="1.35" fill="#fe0000"/>
<circle cx="470.44" cy="122.75" r="1.35" fill="#fe0000"/>
<circle cx="470.44" cy="128.20" r="1.35" fill="#fe0000"/>
<circle cx="470.44" cy="133.65" r="1.35" fill="#fe0000"/>
<circle cx="470.44" cy="139.10" r="1.35" fill="#fe0000"/>
<circle cx="470.44" cy="144.55" r="1.35" fill="#fe0000"/>
<text x="364" y="28.7" font-size="11.9" font-weight="normal" text-anchor="start" fill="#111" textLength="22.6" lengthAdjust="spacingAndGlyphs" >Flow</text>
<path d="M363.6,32.8 L381.3,32.8 L381.3,29.9 L387.2,35.8 L381.3,41.699999999999996 L381.3,38.8 L363.6,38.8 Z" fill="#4472c4" stroke="#31549a" stroke-width="0.7" stroke-linejoin="miter"/>
<text x="364" y="76.7" font-size="11.9" font-weight="normal" text-anchor="start" fill="#111" textLength="22.6" lengthAdjust="spacingAndGlyphs" >Flow</text>
<path d="M363.6,80.8 L381.3,80.8 L381.3,77.89999999999999 L387.2,83.8 L381.3,89.7 L381.3,86.8 L363.6,86.8 Z" fill="#4472c4" stroke="#31549a" stroke-width="0.7" stroke-linejoin="miter"/>
<text x="364" y="124.8" font-size="11.9" font-weight="normal" text-anchor="start" fill="#111" textLength="22.6" lengthAdjust="spacingAndGlyphs" >Flow</text>
<path d="M363.6,129.3 L381.3,129.3 L381.3,126.4 L387.2,132.3 L381.3,138.20000000000002 L381.3,135.3 L363.6,135.3 Z" fill="#4472c4" stroke="#31549a" stroke-width="0.7" stroke-linejoin="miter"/>
<rect x="45.8" y="159.7" width="37.6" height="8.6" fill="#ee1c25"/>
<rect x="158.9" y="159.7" width="37.4" height="8.6" fill="#f6ec25"/>
<rect x="280.2" y="159.7" width="37.6" height="8.6" fill="#8e8e93"/>
<rect x="418.6" y="159.7" width="37.4" height="8.6" fill="#7badde"/>
<text x="88" y="165.6" font-size="6.8" font-weight="normal" text-anchor="start" fill="#2e2e2e" textLength="64.9" lengthAdjust="spacingAndGlyphs" >Upper micropillar array</text>
<text x="200.9" y="165.6" font-size="6.8" font-weight="normal" text-anchor="start" fill="#2e2e2e" textLength="67.9" lengthAdjust="spacingAndGlyphs" >Bottom micropillar array</text>
<text x="324.2" y="165.6" font-size="6.8" font-weight="normal" text-anchor="start" fill="#2e2e2e" textLength="83.2" lengthAdjust="spacingAndGlyphs" >the planar base surface of μAE</text>
<text x="460.3" y="165.6" font-size="6.8" font-weight="normal" text-anchor="start" fill="#2e2e2e" textLength="37.7" lengthAdjust="spacingAndGlyphs" >microchannel</text>
<text x="2.6" y="204.3" font-size="16" font-weight="bold" text-anchor="start" fill="#111" textLength="22.4" lengthAdjust="spacingAndGlyphs" >(B)</text>
<rect x="63.2" y="201.0" width="191.0" height="154.2" fill="none" stroke="#222" stroke-width="0.8"/>
<line x1="60.6" y1="350.40" x2="63.2" y2="350.40" stroke="#222" stroke-width="0.6"/>
<text x="58.9" y="353.29999999999995" font-size="7.0" font-weight="normal" text-anchor="end" fill="#2e2e2e" >0</text>
<line x1="61.800000000000004" y1="331.72" x2="63.2" y2="331.72" stroke="#222" stroke-width="0.6"/>
<line x1="60.6" y1="313.05" x2="63.2" y2="313.05" stroke="#222" stroke-width="0.6"/>
<text x="58.9" y="315.94999999999993" font-size="7.0" font-weight="normal" text-anchor="end" fill="#2e2e2e" >20</text>
<line x1="61.800000000000004" y1="294.38" x2="63.2" y2="294.38" stroke="#222" stroke-width="0.6"/>
<line x1="60.6" y1="275.70" x2="63.2" y2="275.70" stroke="#222" stroke-width="0.6"/>
<text x="58.9" y="278.59999999999997" font-size="7.0" font-weight="normal" text-anchor="end" fill="#2e2e2e" >40</text>
<line x1="61.800000000000004" y1="257.02" x2="63.2" y2="257.02" stroke="#222" stroke-width="0.6"/>
<line x1="60.6" y1="238.35" x2="63.2" y2="238.35" stroke="#222" stroke-width="0.6"/>
<text x="58.9" y="241.24999999999997" font-size="7.0" font-weight="normal" text-anchor="end" fill="#2e2e2e" >60</text>
<line x1="61.800000000000004" y1="219.67" x2="63.2" y2="219.67" stroke="#222" stroke-width="0.6"/>
<line x1="60.6" y1="201.00" x2="63.2" y2="201.00" stroke="#222" stroke-width="0.6"/>
<text x="58.9" y="203.89999999999998" font-size="7.0" font-weight="normal" text-anchor="end" fill="#2e2e2e" >80</text>
<line x1="71.20" y1="355.2" x2="71.20" y2="356.8" stroke="#222" stroke-width="0.6"/>
<text x="71.2" y="365.9" font-size="7.0" font-weight="normal" text-anchor="middle" fill="#2e2e2e" >0</text>
<line x1="90.55" y1="355.2" x2="90.55" y2="356.2" stroke="#222" stroke-width="0.6"/>
<line x1="109.90" y1="355.2" x2="109.90" y2="356.8" stroke="#222" stroke-width="0.6"/>
<text x="109.9" y="365.9" font-size="7.0" font-weight="normal" text-anchor="middle" fill="#2e2e2e" >10</text>
<line x1="129.25" y1="355.2" x2="129.25" y2="356.2" stroke="#222" stroke-width="0.6"/>
<line x1="148.60" y1="355.2" x2="148.60" y2="356.8" stroke="#222" stroke-width="0.6"/>
<text x="148.6" y="365.9" font-size="7.0" font-weight="normal" text-anchor="middle" fill="#2e2e2e" >20</text>
<line x1="167.95" y1="355.2" x2="167.95" y2="356.2" stroke="#222" stroke-width="0.6"/>
<line x1="187.30" y1="355.2" x2="187.30" y2="356.8" stroke="#222" stroke-width="0.6"/>
<text x="187.3" y="365.9" font-size="7.0" font-weight="normal" text-anchor="middle" fill="#2e2e2e" >30</text>
<line x1="206.65" y1="355.2" x2="206.65" y2="356.2" stroke="#222" stroke-width="0.6"/>
<line x1="226.00" y1="355.2" x2="226.00" y2="356.8" stroke="#222" stroke-width="0.6"/>
<text x="226.0" y="365.9" font-size="7.0" font-weight="normal" text-anchor="middle" fill="#2e2e2e" >40</text>
<line x1="245.35" y1="355.2" x2="245.35" y2="356.2" stroke="#222" stroke-width="0.6"/>
<polyline points="71.20,350.40 76.04,344.80 80.88,343.30 90.55,342.18 109.90,339.57 129.25,337.70 148.60,336.39 167.95,335.46 187.30,334.71 245.35,332.66" fill="none" stroke="#111" stroke-width="1.3"/>
<rect x="69.45" y="348.65" width="3.50" height="3.50" fill="#111"/>
<rect x="74.29" y="343.05" width="3.50" height="3.50" fill="#111"/>
<rect x="79.12" y="341.55" width="3.50" height="3.50" fill="#111"/>
<rect x="88.80" y="340.43" width="3.50" height="3.50" fill="#111"/>
<rect x="108.15" y="337.82" width="3.50" height="3.50" fill="#111"/>
<rect x="127.50" y="335.95" width="3.50" height="3.50" fill="#111"/>
<rect x="146.85" y="334.64" width="3.50" height="3.50" fill="#111"/>
<rect x="166.20" y="333.71" width="3.50" height="3.50" fill="#111"/>
<rect x="185.55" y="332.96" width="3.50" height="3.50" fill="#111"/>
<rect x="243.60" y="330.91" width="3.50" height="3.50" fill="#111"/>
<polyline points="71.20,350.40 76.04,343.68 80.88,341.81 90.55,339.01 109.90,335.46 129.25,333.03 148.60,330.60 167.95,328.55 187.30,326.68 245.35,321.45" fill="none" stroke="#111" stroke-width="1.3"/>
<circle cx="71.20" cy="350.40" r="2.00" fill="#111"/>
<circle cx="76.04" cy="343.68" r="2.00" fill="#111"/>
<circle cx="80.88" cy="341.81" r="2.00" fill="#111"/>
<circle cx="90.55" cy="339.01" r="2.00" fill="#111"/>
<circle cx="109.90" cy="335.46" r="2.00" fill="#111"/>
<circle cx="129.25" cy="333.03" r="2.00" fill="#111"/>
<circle cx="148.60" cy="330.60" r="2.00" fill="#111"/>
<circle cx="167.95" cy="328.55" r="2.00" fill="#111"/>
<circle cx="187.30" cy="326.68" r="2.00" fill="#111"/>
<circle cx="245.35" cy="321.45" r="2.00" fill="#111"/>
<polyline points="71.20,350.40 76.04,341.06 80.88,334.34 90.55,327.43 109.90,318.47 129.25,311.74 148.60,306.51 167.95,300.35 187.30,295.31 245.35,281.68" fill="none" stroke="#111" stroke-width="1.3"/>
<polygon points="71.20,347.70 68.85,352.16 73.55,352.16" fill="#fff" stroke="#111" stroke-width="0.7"/>
<polygon points="76.04,338.36 73.69,342.82 78.39,342.82" fill="#fff" stroke="#111" stroke-width="0.7"/>
<polygon points="80.88,331.64 78.53,336.10 83.22,336.10" fill="#fff" stroke="#111" stroke-width="0.7"/>
<polygon points="90.55,324.73 88.20,329.19 92.90,329.19" fill="#fff" stroke="#111" stroke-width="0.7"/>
<polygon points="109.90,315.76 107.55,320.23 112.25,320.23" fill="#fff" stroke="#111" stroke-width="0.7"/>
<polygon points="129.25,309.04 126.90,313.51 131.60,313.51" fill="#fff" stroke="#111" stroke-width="0.7"/>
<polygon points="148.60,303.81 146.25,308.28 150.95,308.28" fill="#fff" stroke="#111" stroke-width="0.7"/>
<polygon points="167.95,297.65 165.60,302.11 170.30,302.11" fill="#fff" stroke="#111" stroke-width="0.7"/>
<polygon points="187.30,292.61 184.95,297.07 189.65,297.07" fill="#fff" stroke="#111" stroke-width="0.7"/>
<polygon points="245.35,278.97 243.00,283.44 247.70,283.44" fill="#fff" stroke="#111" stroke-width="0.7"/>
<polyline points="71.20,350.40 76.04,341.06 80.88,333.97 90.55,327.06 109.90,317.91 129.25,310.81 148.60,304.09 167.95,297.74 187.30,291.57 245.35,274.58" fill="none" stroke="#111" stroke-width="1.3"/>
<polygon points="71.20,353.10 68.85,348.64 73.55,348.64" fill="#111"/>
<polygon points="76.04,343.76 73.69,339.30 78.39,339.30" fill="#111"/>
<polygon points="80.88,336.67 78.53,332.20 83.22,332.20" fill="#111"/>
<polygon points="90.55,329.76 88.20,325.29 92.90,325.29" fill="#111"/>
<polygon points="109.90,320.61 107.55,316.14 112.25,316.14" fill="#111"/>
<polygon points="129.25,313.51 126.90,309.05 131.60,309.05" fill="#111"/>
<polygon points="148.60,306.79 146.25,302.32 150.95,302.32" fill="#111"/>
<polygon points="167.95,300.44 165.60,295.97 170.30,295.97" fill="#111"/>
<polygon points="187.30,294.28 184.95,289.81 189.65,289.81" fill="#111"/>
<polygon points="245.35,277.28 243.00,272.82 247.70,272.82" fill="#111"/>
<polyline points="71.20,350.40 76.04,340.13 80.88,332.47 90.55,316.04 109.90,294.75 129.25,280.74 148.60,268.04 167.95,257.77 187.30,248.06 245.35,222.29" fill="none" stroke="#111" stroke-width="1.3"/>
<polygon points="71.20,348.05 73.55,350.40 71.20,352.75 68.85,350.40" fill="#fff" stroke="#111" stroke-width="0.7"/>
<polygon points="76.04,337.78 78.39,340.13 76.04,342.48 73.69,340.13" fill="#fff" stroke="#111" stroke-width="0.7"/>
<polygon points="80.88,330.12 83.22,332.47 80.88,334.82 78.53,332.47" fill="#fff" stroke="#111" stroke-width="0.7"/>
<polygon points="90.55,313.69 92.90,316.04 90.55,318.39 88.20,316.04" fill="#fff" stroke="#111" stroke-width="0.7"/>
<polygon points="109.90,292.40 112.25,294.75 109.90,297.10 107.55,294.75" fill="#fff" stroke="#111" stroke-width="0.7"/>
<polygon points="129.25,278.39 131.60,280.74 129.25,283.09 126.90,280.74" fill="#fff" stroke="#111" stroke-width="0.7"/>
<polygon points="148.60,265.69 150.95,268.04 148.60,270.39 146.25,268.04" fill="#fff" stroke="#111" stroke-width="0.7"/>
<polygon points="167.95,255.42 170.30,257.77 167.95,260.12 165.60,257.77" fill="#fff" stroke="#111" stroke-width="0.7"/>
<polygon points="187.30,245.71 189.65,248.06 187.30,250.41 184.95,248.06" fill="#fff" stroke="#111" stroke-width="0.7"/>
<polygon points="245.35,219.94 247.70,222.29 245.35,224.64 243.00,222.29" fill="#fff" stroke="#111" stroke-width="0.7"/>
<polyline points="71.20,350.40 76.04,340.13 80.88,332.10 90.55,315.48 109.90,294.38 129.25,278.31 148.60,263.93 167.95,251.05 187.30,239.47 245.35,208.47" fill="none" stroke="#111" stroke-width="1.3"/>
<polygon points="68.50,350.40 72.96,348.05 72.96,352.75" fill="#111"/>
<polygon points="73.34,340.13 77.80,337.78 77.80,342.48" fill="#111"/>
<polygon points="78.17,332.10 82.64,329.75 82.64,334.45" fill="#111"/>
<polygon points="87.85,315.48 92.31,313.13 92.31,317.83" fill="#111"/>
<polygon points="107.20,294.38 111.66,292.02 111.66,296.73" fill="#111"/>
<polygon points="126.55,278.31 131.01,275.96 131.01,280.66" fill="#111"/>
<polygon points="145.90,263.93 150.36,261.58 150.36,266.28" fill="#111"/>
<polygon points="165.25,251.05 169.71,248.70 169.71,253.40" fill="#111"/>
<polygon points="184.60,239.47 189.06,237.12 189.06,241.82" fill="#111"/>
<polygon points="242.65,208.47 247.11,206.12 247.11,210.82" fill="#111"/>
<rect x="64.5" y="202.5" width="80.9" height="50.1" fill="#fff" stroke="#333" stroke-width="0.5"/>
<line x1="66.5" y1="207.40" x2="81.2" y2="207.40" stroke="#111" stroke-width="0.9"/>
<rect x="72.15" y="205.65" width="3.50" height="3.50" fill="#111"/>
<text x="82.8" y="209.50" font-size="6.6" font-weight="normal" text-anchor="start" fill="#2e2e2e" textLength="35.6" lengthAdjust="spacingAndGlyphs" >Unilateral PE</text>
<line x1="66.5" y1="215.55" x2="81.2" y2="215.55" stroke="#111" stroke-width="0.9"/>
<circle cx="73.90" cy="215.55" r="2.00" fill="#111"/>
<text x="82.8" y="217.65" font-size="6.6" font-weight="normal" text-anchor="start" fill="#2e2e2e" textLength="60.6" lengthAdjust="spacingAndGlyphs" >Aligned unilateral μAE</text>
<line x1="66.5" y1="223.70" x2="81.2" y2="223.70" stroke="#111" stroke-width="0.9"/>
<polygon points="73.90,221.00 71.55,225.46 76.25,225.46" fill="#fff" stroke="#111" stroke-width="0.7"/>
<text x="82.8" y="225.80" font-size="6.6" font-weight="normal" text-anchor="start" fill="#2e2e2e" textLength="43.8" lengthAdjust="spacingAndGlyphs" >Aligned bμAE−1</text>
<line x1="66.5" y1="231.85" x2="81.2" y2="231.85" stroke="#111" stroke-width="0.9"/>
<polygon points="73.90,234.55 71.55,230.09 76.25,230.09" fill="#111"/>
<text x="82.8" y="233.95" font-size="6.6" font-weight="normal" text-anchor="start" fill="#2e2e2e" textLength="45.9" lengthAdjust="spacingAndGlyphs" >Staggered bAE−1</text>
<line x1="66.5" y1="240.00" x2="81.2" y2="240.00" stroke="#111" stroke-width="0.9"/>
<polygon points="73.90,237.65 76.25,240.00 73.90,242.35 71.55,240.00" fill="#fff" stroke="#111" stroke-width="0.7"/>
<text x="82.8" y="242.10" font-size="6.6" font-weight="normal" text-anchor="start" fill="#2e2e2e" textLength="43.8" lengthAdjust="spacingAndGlyphs" >Aligned bμAE−2</text>
<line x1="66.5" y1="248.15" x2="81.2" y2="248.15" stroke="#111" stroke-width="0.9"/>
<polygon points="71.20,248.15 75.66,245.80 75.66,250.50" fill="#111"/>
<text x="82.8" y="250.25" font-size="6.6" font-weight="normal" text-anchor="start" fill="#2e2e2e" textLength="50.3" lengthAdjust="spacingAndGlyphs" >Staggered bμAE−2</text>
<text transform="translate(45.9,278.7) rotate(-90)" font-size="10.3" font-weight="bold" text-anchor="middle" fill="#111" textLength="69.3" lengthAdjust="spacingAndGlyphs">Current <tspan font-style="italic">I</tspan><tspan font-style="italic" font-size="7" dy="1.8">C</tspan><tspan dy="-1.8"> (μA)</tspan></text>
<text x="109.2" y="380.2" font-size="10.3" font-weight="bold" fill="#111" textLength="101.6" lengthAdjust="spacingAndGlyphs">Flow rate <tspan font-style="italic">Q</tspan> (μL·min<tspan font-size="6.8" dy="-3.6">−1</tspan><tspan dy="3.6">)</tspan></text>
<text x="284.6" y="205.1" font-size="16" font-weight="bold" text-anchor="start" fill="#111" textLength="23.2" lengthAdjust="spacingAndGlyphs" >(C)</text>
<rect x="344.3" y="198.4" width="193.8" height="156.6" fill="none" stroke="#222" stroke-width="0.8"/>
<line x1="341.7" y1="354.80" x2="344.3" y2="354.80" stroke="#222" stroke-width="0.6"/>
<text x="340.0" y="357.7" font-size="7.0" font-weight="normal" text-anchor="end" fill="#2e2e2e" >1</text>
<line x1="342.90000000000003" y1="332.13" x2="344.3" y2="332.13" stroke="#222" stroke-width="0.6"/>
<line x1="342.90000000000003" y1="318.87" x2="344.3" y2="318.87" stroke="#222" stroke-width="0.6"/>
<line x1="342.90000000000003" y1="309.46" x2="344.3" y2="309.46" stroke="#222" stroke-width="0.6"/>
<line x1="342.90000000000003" y1="302.17" x2="344.3" y2="302.17" stroke="#222" stroke-width="0.6"/>
<line x1="342.90000000000003" y1="296.21" x2="344.3" y2="296.21" stroke="#222" stroke-width="0.6"/>
<line x1="342.90000000000003" y1="291.16" x2="344.3" y2="291.16" stroke="#222" stroke-width="0.6"/>
<line x1="342.90000000000003" y1="286.80" x2="344.3" y2="286.80" stroke="#222" stroke-width="0.6"/>
<line x1="342.90000000000003" y1="282.95" x2="344.3" y2="282.95" stroke="#222" stroke-width="0.6"/>
<line x1="341.7" y1="279.50" x2="344.3" y2="279.50" stroke="#222" stroke-width="0.6"/>
<text x="340.0" y="282.4" font-size="7.0" font-weight="normal" text-anchor="end" fill="#2e2e2e" >10</text>
<line x1="342.90000000000003" y1="256.83" x2="344.3" y2="256.83" stroke="#222" stroke-width="0.6"/>
<line x1="342.90000000000003" y1="243.57" x2="344.3" y2="243.57" stroke="#222" stroke-width="0.6"/>
<line x1="342.90000000000003" y1="234.16" x2="344.3" y2="234.16" stroke="#222" stroke-width="0.6"/>
<line x1="342.90000000000003" y1="226.87" x2="344.3" y2="226.87" stroke="#222" stroke-width="0.6"/>
<line x1="342.90000000000003" y1="220.91" x2="344.3" y2="220.91" stroke="#222" stroke-width="0.6"/>
<line x1="342.90000000000003" y1="215.86" x2="344.3" y2="215.86" stroke="#222" stroke-width="0.6"/>
<line x1="342.90000000000003" y1="211.50" x2="344.3" y2="211.50" stroke="#222" stroke-width="0.6"/>
<line x1="342.90000000000003" y1="207.65" x2="344.3" y2="207.65" stroke="#222" stroke-width="0.6"/>
<line x1="341.7" y1="204.20" x2="344.3" y2="204.20" stroke="#222" stroke-width="0.6"/>
<text x="340.0" y="207.10000000000002" font-size="7.0" font-weight="normal" text-anchor="end" fill="#2e2e2e" >100</text>
<line x1="355.90" y1="355.0" x2="355.90" y2="356.6" stroke="#222" stroke-width="0.6"/>
<text x="355.9" y="365.9" font-size="7.0" font-weight="normal" text-anchor="middle" fill="#2e2e2e" >0</text>
<line x1="374.75" y1="355.0" x2="374.75" y2="356.0" stroke="#222" stroke-width="0.6"/>
<line x1="393.60" y1="355.0" x2="393.60" y2="356.6" stroke="#222" stroke-width="0.6"/>
<text x="393.6" y="365.9" font-size="7.0" font-weight="normal" text-anchor="middle" fill="#2e2e2e" >10</text>
<line x1="412.45" y1="355.0" x2="412.45" y2="356.0" stroke="#222" stroke-width="0.6"/>
<line x1="431.30" y1="355.0" x2="431.30" y2="356.6" stroke="#222" stroke-width="0.6"/>
<text x="431.3" y="365.9" font-size="7.0" font-weight="normal" text-anchor="middle" fill="#2e2e2e" >20</text>
<line x1="450.15" y1="355.0" x2="450.15" y2="356.0" stroke="#222" stroke-width="0.6"/>
<line x1="469.00" y1="355.0" x2="469.00" y2="356.6" stroke="#222" stroke-width="0.6"/>
<text x="469.0" y="365.9" font-size="7.0" font-weight="normal" text-anchor="middle" fill="#2e2e2e" >30</text>
<line x1="487.85" y1="355.0" x2="487.85" y2="356.0" stroke="#222" stroke-width="0.6"/>
<line x1="506.70" y1="355.0" x2="506.70" y2="356.6" stroke="#222" stroke-width="0.6"/>
<text x="506.7" y="365.9" font-size="7.0" font-weight="normal" text-anchor="middle" fill="#2e2e2e" >40</text>
<line x1="525.55" y1="355.0" x2="525.55" y2="356.0" stroke="#222" stroke-width="0.6"/>
<polyline points="360.61,285.20 365.32,307.87 374.75,318.12 393.60,321.13 412.45,321.36 431.30,321.84 450.15,322.32 469.00,322.81 525.55,324.45" fill="none" stroke="#111" stroke-width="1.3"/>
<polygon points="360.61,282.50 358.26,286.96 362.96,286.96" fill="#fff" stroke="#111" stroke-width="0.7"/>
<polygon points="365.32,305.17 362.97,309.63 367.68,309.63" fill="#fff" stroke="#111" stroke-width="0.7"/>
<polygon points="374.75,315.42 372.40,319.88 377.10,319.88" fill="#fff" stroke="#111" stroke-width="0.7"/>
<polygon points="393.60,318.43 391.25,322.89 395.95,322.89" fill="#fff" stroke="#111" stroke-width="0.7"/>
<polygon points="412.45,318.66 410.10,323.13 414.80,323.13" fill="#fff" stroke="#111" stroke-width="0.7"/>
<polygon points="431.30,319.13 428.95,323.60 433.65,323.60" fill="#fff" stroke="#111" stroke-width="0.7"/>
<polygon points="450.15,319.62 447.80,324.08 452.50,324.08" fill="#fff" stroke="#111" stroke-width="0.7"/>
<polygon points="469.00,320.10 466.65,324.57 471.35,324.57" fill="#fff" stroke="#111" stroke-width="0.7"/>
<polygon points="525.55,321.74 523.20,326.21 527.90,326.21" fill="#fff" stroke="#111" stroke-width="0.7"/>
<polyline points="360.61,288.05 365.32,312.91 374.75,324.84 393.60,327.14 412.45,328.28 431.30,329.62 450.15,330.54 469.00,331.65 525.55,335.40" fill="none" stroke="#111" stroke-width="1.3"/>
<polygon points="360.61,290.75 358.26,286.28 362.96,286.28" fill="#111"/>
<polygon points="365.32,315.61 362.97,311.15 367.68,311.15" fill="#111"/>
<polygon points="374.75,327.54 372.40,323.07 377.10,323.07" fill="#111"/>
<polygon points="393.60,329.84 391.25,325.38 395.95,325.38" fill="#111"/>
<polygon points="412.45,330.98 410.10,326.52 414.80,326.52" fill="#111"/>
<polygon points="431.30,332.32 428.95,327.85 433.65,327.85" fill="#111"/>
<polygon points="450.15,333.24 447.80,328.77 452.50,328.77" fill="#111"/>
<polygon points="469.00,334.35 466.65,329.88 471.35,329.88" fill="#111"/>
<polygon points="525.55,338.10 523.20,333.63 527.90,333.63" fill="#111"/>
<polyline points="360.61,201.08 365.32,242.50 374.75,285.20 393.60,308.34 412.45,316.26 431.30,319.98 450.15,322.08 469.00,322.68 525.55,324.45" fill="none" stroke="#111" stroke-width="1.3"/>
<polygon points="360.61,198.73 362.96,201.08 360.61,203.43 358.26,201.08" fill="#fff" stroke="#111" stroke-width="0.7"/>
<polygon points="365.32,240.15 367.68,242.50 365.32,244.85 362.97,242.50" fill="#fff" stroke="#111" stroke-width="0.7"/>
<polygon points="374.75,282.85 377.10,285.20 374.75,287.55 372.40,285.20" fill="#fff" stroke="#111" stroke-width="0.7"/>
<polygon points="393.60,305.99 395.95,308.34 393.60,310.69 391.25,308.34" fill="#fff" stroke="#111" stroke-width="0.7"/>
<polygon points="412.45,313.91 414.80,316.26 412.45,318.61 410.10,316.26" fill="#fff" stroke="#111" stroke-width="0.7"/>
<polygon points="431.30,317.63 433.65,319.98 431.30,322.33 428.95,319.98" fill="#fff" stroke="#111" stroke-width="0.7"/>
<polygon points="450.15,319.73 452.50,322.08 450.15,324.43 447.80,322.08" fill="#fff" stroke="#111" stroke-width="0.7"/>
<polygon points="469.00,320.33 471.35,322.68 469.00,325.03 466.65,322.68" fill="#fff" stroke="#111" stroke-width="0.7"/>
<polygon points="525.55,322.10 527.90,324.45 525.55,326.80 523.20,324.45" fill="#fff" stroke="#111" stroke-width="0.7"/>
<polyline points="360.61,206.93 365.32,243.03 374.75,285.59 393.60,310.29 412.45,321.13 431.30,325.76 450.15,329.02 469.00,331.32 525.55,335.04" fill="none" stroke="#111" stroke-width="1.3"/>
<polygon points="357.91,206.93 362.37,204.58 362.37,209.28" fill="#111"/>
<polygon points="362.62,243.03 367.09,240.68 367.09,245.38" fill="#111"/>
<polygon points="372.05,285.59 376.51,283.24 376.51,287.94" fill="#111"/>
<polygon points="390.90,310.29 395.36,307.94 395.36,312.64" fill="#111"/>
<polygon points="409.75,321.13 414.21,318.78 414.21,323.48" fill="#111"/>
<polygon points="428.60,325.76 433.06,323.41 433.06,328.11" fill="#111"/>
<polygon points="447.45,329.02 451.91,326.67 451.91,331.37" fill="#111"/>
<polygon points="466.30,331.32 470.76,328.97 470.76,333.67" fill="#111"/>
<polygon points="522.85,335.04 527.31,332.69 527.31,337.39" fill="#111"/>
<rect x="449.2" y="201.8" width="85.8" height="41.2" fill="#fff" stroke="#333" stroke-width="0.5"/>
<line x1="450.7" y1="207.70" x2="469.3" y2="207.70" stroke="#111" stroke-width="0.9"/>
<polygon points="460.00,205.00 457.65,209.46 462.35,209.46" fill="#fff" stroke="#111" stroke-width="0.7"/>
<text x="471.1" y="210.30" font-size="8.2" font-weight="normal" text-anchor="start" fill="#2e2e2e" textLength="55.5" lengthAdjust="spacingAndGlyphs" >Aligned bμAE−1</text>
<line x1="450.7" y1="217.70" x2="469.3" y2="217.70" stroke="#111" stroke-width="0.9"/>
<polygon points="460.00,220.40 457.65,215.94 462.35,215.94" fill="#111"/>
<text x="471.1" y="220.30" font-size="8.2" font-weight="normal" text-anchor="start" fill="#2e2e2e" textLength="62" lengthAdjust="spacingAndGlyphs" >Staggered bμAE−1</text>
<line x1="450.7" y1="227.70" x2="469.3" y2="227.70" stroke="#111" stroke-width="0.9"/>
<polygon points="460.00,225.35 462.35,227.70 460.00,230.05 457.65,227.70" fill="#fff" stroke="#111" stroke-width="0.7"/>
<text x="471.1" y="230.30" font-size="8.2" font-weight="normal" text-anchor="start" fill="#2e2e2e" textLength="55.5" lengthAdjust="spacingAndGlyphs" >Aligned bμAE−2</text>
<line x1="450.7" y1="237.70" x2="469.3" y2="237.70" stroke="#111" stroke-width="0.9"/>
<polygon points="457.30,237.70 461.76,235.35 461.76,240.05" fill="#111"/>
<text x="471.1" y="240.30" font-size="8.2" font-weight="normal" text-anchor="start" fill="#2e2e2e" textLength="62" lengthAdjust="spacingAndGlyphs" >Staggered bμAE−2</text>
<text transform="translate(323,277.0) rotate(-90)" font-size="10.3" font-weight="bold" text-anchor="middle" fill="#111" textLength="118.6" lengthAdjust="spacingAndGlyphs">Ratio of current density <tspan font-style="italic">R</tspan><tspan font-style="italic" font-size="7" dy="1.8">d</tspan></text>
<text x="390" y="380.2" font-size="10.3" font-weight="bold" fill="#111" textLength="102.8" lengthAdjust="spacingAndGlyphs">Flow rate <tspan font-style="italic">Q</tspan> (μL·min<tspan font-size="6.8" dy="-3.6">−1</tspan><tspan dy="3.6">)</tspan></text>
</svg></body></html>
